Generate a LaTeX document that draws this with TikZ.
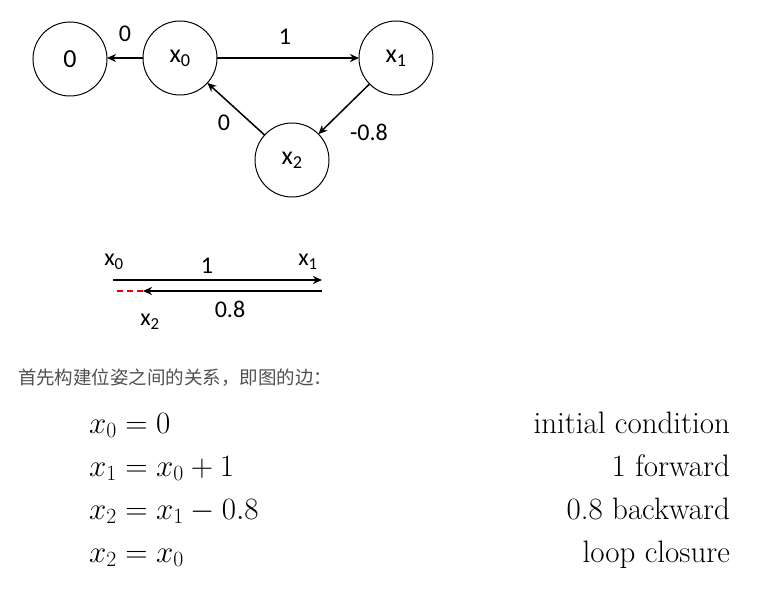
\RequirePackage{fix-cm}
\documentclass[tikz,border=0pt]{standalone}
\usepackage{fontspec}
\usepackage{amsmath}
\setsansfont{Carlito}
\newfontfamily\cjkfont{Noto Sans CJK SC}
\usetikzlibrary{arrows.meta}
\definecolor{cgray}{RGB}{80,80,80}
\definecolor{cred}{RGB}{230,0,0}

\begin{document}
\begin{tikzpicture}[y=1pt,x=1pt,yscale=-1, inner sep=0pt, outer sep=0pt,
  pose/.style={draw=black,circle,minimum size=74pt,line width=1pt,font=\sffamily\fontsize{26}{26}\selectfont},
  edge/.style={draw=black,line width=1.5pt,-{Stealth[length=9pt,width=8pt]}},
  lbl/.style={font=\sffamily\fontsize{24}{24}\selectfont},
  eqn/.style={anchor=base west,font=\fontsize{31}{31}\selectfont},
  cmt/.style={anchor=base east,font=\fontsize{31}{31}\selectfont}]
  \useasboundingbox (0,0) rectangle (772,596);
  % pose graph
  \node[pose] (prior) at (70,59) {0};
  \node[pose] (xzero) at (180,58) {x\textsubscript{0}};
  \node[pose] (xone) at (396,58) {x\textsubscript{1}};
  \node[pose] (xtwo) at (292,160) {x\textsubscript{2}};
  \draw[edge] (xzero.west) -- (prior.east |- xzero.west);
  \draw[edge] (xzero.east) -- (xone.west |- xzero.east);
  \draw[edge] (xone) -- (xtwo);
  \draw[edge] (xtwo) -- (xzero);
  \node[lbl] (lprior) at (125,34) {0};
  \node[lbl] (lfwd) at (285,37) {1};
  \node[lbl] (lloop) at (224,123) {0};
  \node[lbl] (lback) at (369,132) {-0.8};
  % 1d sketch
  \node[lbl] (szero) at (114,262) {x\textsubscript{0}};
  \node[lbl] (sone) at (308,262) {x\textsubscript{1}};
  \node[lbl] (stwo) at (150,322) {x\textsubscript{2}};
  \node[lbl] (sfwd) at (207,266) {1};
  \node[lbl] (sback) at (230,309) {0.8};
  \coordinate (fstart) at (113,280);
  \coordinate (fend) at (322,280);
  \coordinate (bstart) at (322,291);
  \coordinate (bend) at (143,291);
  \coordinate (dend) at (113,291);
  \draw[edge,line width=1.7pt] (fstart) -- (fend);
  \draw[edge,line width=1.7pt] (bstart) -- (bend);
  \draw[cred,line width=1.7pt,dash pattern=on 6pt off 4pt] (bend) -- (dend);
  % text
  \node[anchor=west,text=cgray,font=\cjkfont\fontsize{18.5}{19}\selectfont] (intro) at (18,378) {首先构建位姿之间的关系，即图的边：};
  \node[eqn] (eqa) at (89,433) {$x_0 = 0$};
  \node[eqn] (eqb) at (89,476) {$x_1 = x_0 + 1$};
  \node[eqn] (eqc) at (89,519) {$x_2 = x_1 - 0.8$};
  \node[eqn] (eqd) at (89,562) {$x_2 = x_0$};
  \node[cmt] (cma) at (730,433) {initial condition};
  \node[cmt] (cmb) at (730,476) {1 forward};
  \node[cmt] (cmc) at (730,519) {0.8 backward};
  \node[cmt] (cmd) at (730,562) {loop closure};
\end{tikzpicture}
\end{document}
